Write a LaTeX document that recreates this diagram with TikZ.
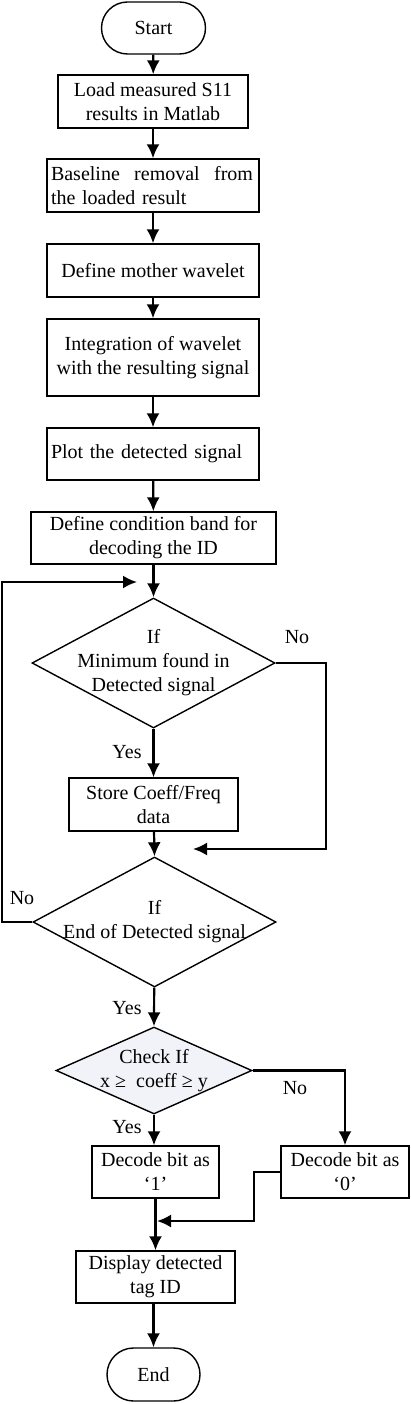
\documentclass[tikz,border=0pt]{standalone}
\usepackage{fontspec}
\setmainfont{Liberation Serif}
\usetikzlibrary{arrows.meta,shapes.geometric,shapes.misc}
\definecolor{paleblue}{RGB}{242,243,248}
\tikzset{
  procbox/.style={draw, line width=1.4pt, align=center, inner sep=1pt, minimum height=53pt},
  terminal/.style={draw, line width=1.4pt, rounded rectangle, inner sep=1pt},
  decision/.style={draw, line width=1.4pt, diamond, inner sep=0pt},
  lbl/.style={inner sep=0pt}
}
\begin{document}
\begin{tikzpicture}[>={Latex[length=14pt,width=13pt]}, x=1pt, y=-1pt,
  every node/.append style={font=\fontsize{20}{24}\selectfont},
  every path/.append style={line width=2.2pt}]
\useasboundingbox (0,0) rectangle (410,1404);

\node[terminal, minimum width=106pt, minimum height=52pt] (start) at (153.5,28) {Start};
\node[procbox, minimum width=190pt] (load) at (153,101.5) {Load measured S11\\results in Matlab};
\node[procbox, minimum width=212pt, align=left, text width=204pt] (base) at (153,185.5)
  {\makebox[202pt][l]{Baseline\hfill removal\hfill from}\\the loaded result};
\node[procbox, minimum width=212pt] (mother) at (153,270.5) {Define mother wavelet};
\node[procbox, minimum width=212pt, minimum height=77pt] (integ) at (153,357.5)
  {Integration of wavelet\\with the resulting signal};
\node[procbox, minimum width=212pt, minimum height=52pt, align=left, text width=204pt] (plot) at (153,454)
  {Plot the detected signal};
\node[procbox, minimum width=245pt, minimum height=52pt] (cond) at (153.5,538)
  {Define condition band for\\decoding the ID};

\node[decision, minimum width=243pt, minimum height=130pt] (minq) at (153.5,663) {};
\node[lbl, align=center] (minqtxt) at (minq) {If\\Minimum found in\\Detected signal};
\node[procbox, minimum width=169pt] (store) at (153.5,804.5) {Store Coeff/Freq\\data};
\node[decision, minimum width=243pt, minimum height=130pt] (endq) at (154.5,922) {};
\node[lbl, align=center] (endqtxt) at (endq) {If\\End of Detected signal};
\node[decision, fill=paleblue, minimum width=196pt, minimum height=87pt] (band) at (154,1070.5) {};
\node[lbl, align=center] (bandtxt) at (band) {Check If\\x ≥\ \ coeff ≥ y};

\node[procbox, minimum width=127pt, minimum height=52pt] (bitone) at (155.5,1172) {Decode bit as\\‘1’};
\node[procbox, minimum width=128pt, minimum height=52pt] (bitzero) at (345,1172) {Decode bit as\\‘0’};
\node[procbox, minimum width=159pt, minimum height=52pt] (show) at (155.5,1277) {Display detected\\tag ID};
\node[terminal, minimum width=95pt, minimum height=53pt] (finish) at (153.5,1374.5) {End};

% labels on the branches
\node[lbl] (nominq) at (297,637) {No};
\node[lbl] (yesminq) at (127,752) {Yes};
\node[lbl] (noendq) at (22,898) {No};
\node[lbl] (yesendq) at (127,1008) {Yes};
\node[lbl] (noband) at (295,1088) {No};
\node[lbl] (yesband) at (127,1127) {Yes};

\coordinate (loopin) at (137,582);
\coordinate (skipin) at (193,849);
\coordinate (zeroin) at (157,1221);

\draw[->] (start) -- (load);
\draw[->] (load) -- (base);
\draw[->] (base) -- (mother);
\draw[->] (mother) -- (integ);
\draw[->] (integ) -- (plot);
\draw[->] (plot) -- (cond);
\draw[->] (cond.south -| minq.north) -- (minq.north);
\draw[->] (minq) -- (store);
\draw[->] (minq.east) -- ++(50,0) |- (skipin);
\draw[->] (store) -- (endq.north);
\draw[->] (endq.west) -- (2,922) |- (loopin);
\draw[->] (endq) -- (band.north);
\draw[->] (band.south) -- (bitone.north -| band.south);
\draw[->] (band.east) -| (bitzero.north);
\draw[->] (bitzero.west) -- ++(-26,0) |- (zeroin);
\draw[->] (bitone) -- (show);
\draw[->] (show.south -| finish.north) -- (finish.north);

\end{tikzpicture}
\end{document}
